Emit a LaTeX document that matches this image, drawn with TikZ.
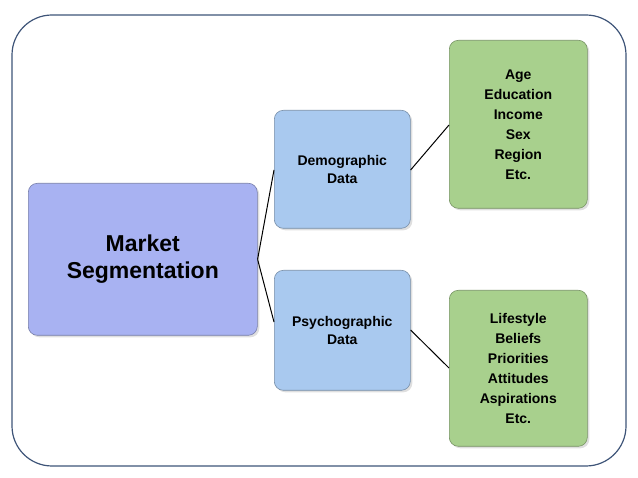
\documentclass[tikz,border=0pt]{standalone}
\usepackage{fontspec}
\setmainfont{Liberation Sans}
\usetikzlibrary{shadows}
\definecolor{lav}{HTML}{A8B2F2}
\definecolor{lblue}{HTML}{A9C9EF}
\definecolor{lgreen}{HTML}{A8D08D}
\definecolor{frame}{HTML}{3E5478}
\tikzset{
  box/.style={draw=#1!70!black, line width=0.6pt, rounded corners=9pt, anchor=north west, align=center, font=\bfseries, drop shadow={opacity=0.25, shadow xshift=2pt, shadow yshift=-2pt}},
  conn/.style={line width=1pt, black}
}
\begin{document}
\begin{tikzpicture}[x=1pt,y=-1pt]
\useasboundingbox (0,0) rectangle (638,478);
\draw[frame, line width=1.2pt, rounded corners=40pt] (12,15) rectangle (626,466);
\node[box=lav, fill=lav, minimum width=229pt, minimum height=152pt, font=\bfseries\fontsize{23}{27}\selectfont] (ms) at (28,183) {Market\\Segmentation};
\node[box=lblue, fill=lblue, minimum width=136pt, minimum height=118pt, font=\bfseries\fontsize{14}{18}\selectfont] (dd) at (274,110) {Demographic\\Data};
\node[box=lblue, fill=lblue, minimum width=136pt, minimum height=120pt, font=\bfseries\fontsize{14}{18}\selectfont] (pd) at (274,270) {Psychographic\\Data};
\node[box=lgreen, fill=lgreen, minimum width=138pt, minimum height=168pt, font=\bfseries\fontsize{14}{20}\selectfont] (g1) at (449,40) {Age\\Education\\Income\\Sex\\Region\\Etc.};
\node[box=lgreen, fill=lgreen, minimum width=138pt, minimum height=156pt, font=\bfseries\fontsize{14}{20}\selectfont] (g2) at (449,290) {Lifestyle\\Beliefs\\Priorities\\Attitudes\\Aspirations\\Etc.};
\coordinate (m) at (ms.east);
\draw[conn] (m) -- (dd.west |- 0,170);
\draw[conn] (m) -- (pd.west |- 0,322);
\draw[conn] (dd.east |- 0,170) -- (g1.west |- 0,125);
\draw[conn] (pd.east |- 0,330) -- (g2.west |- 0,368);
\end{tikzpicture}
\end{document}
